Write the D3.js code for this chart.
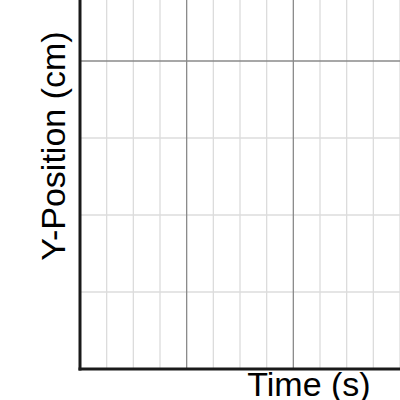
<!DOCTYPE html><html><head><meta charset="utf-8"><script src="https://cdn.jsdelivr.net/npm/d3@7"></script>
<style>body{margin:0;background:#fff}</style></head><body><script>
const xMinor=[1,2,3,5,6,7,9,10,11,12];
const xMajor=[4,8];
const yMinor=[1,2,3];
const yMajor=[4];
const xLabel="Time (s)", yLabel="Y-Position (cm)";
const svg=d3.select("body").append("svg").attr("width",400).attr("height",400);
const x=d3.scaleLinear().domain([0,12]).range([80,400]);
const y=d3.scaleLinear().domain([0,4]).range([369,61]);
const g=svg.append("g");
g.selectAll(".vm").data(xMinor).join("line").attr("x1",d=>x(d)).attr("x2",d=>x(d)).attr("y1",0).attr("y2",369).attr("stroke","#dcdcdc").attr("stroke-width",1.3);
g.selectAll(".hm").data(yMinor).join("line").attr("y1",d=>y(d)).attr("y2",d=>y(d)).attr("x1",80).attr("x2",400).attr("stroke","#dcdcdc").attr("stroke-width",1.3);
g.selectAll(".vM").data(xMajor).join("line").attr("x1",d=>x(d)).attr("x2",d=>x(d)).attr("y1",0).attr("y2",369).attr("stroke","#8a8a8a").attr("stroke-width",1.3);
g.selectAll(".hM").data(yMajor).join("line").attr("y1",d=>y(d)).attr("y2",d=>y(d)).attr("x1",80).attr("x2",400).attr("stroke","#8a8a8a").attr("stroke-width",1.3);
svg.append("line").attr("x1",x(0)).attr("x2",x(0)).attr("y1",0).attr("y2",y(0)+1.5).attr("stroke","#1a1a1a").attr("stroke-width",3);
svg.append("line").attr("x1",x(0)-1.5).attr("x2",400).attr("y1",y(0)).attr("y2",y(0)).attr("stroke","#1a1a1a").attr("stroke-width",3);
svg.append("text").attr("x",309).attr("y",396).attr("text-anchor","middle").attr("font-family","Liberation Sans, Arial").attr("font-size",34).attr("fill","#000").text(xLabel);
svg.append("text").attr("transform","translate(65,146) rotate(-90)").attr("text-anchor","middle").attr("font-family","Liberation Sans, Arial").attr("font-size",34).attr("fill","#000").text(yLabel);
</script></body></html>
